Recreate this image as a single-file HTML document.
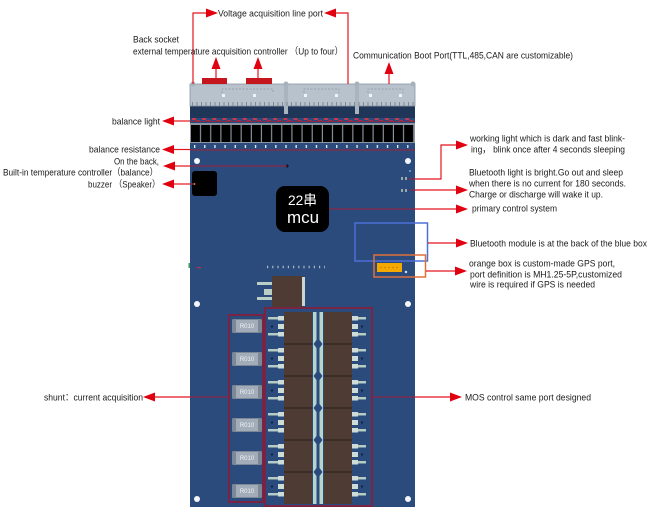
<!DOCTYPE html>
<html><head><meta charset="utf-8"><style>html,body{margin:0;padding:0;background:#fff}svg{display:block}</style></head><body>
<svg width="650" height="524" viewBox="0 0 650 524" xmlns="http://www.w3.org/2000/svg" font-family="'Liberation Sans', 'Noto Sans CJK SC', sans-serif" font-size="9.5" fill="#1a1a1a">
<defs>
  <pattern id="sq" x="191" y="125" width="10.15" height="17" patternUnits="userSpaceOnUse"><rect width="9" height="17" fill="#000"/></pattern>
  <pattern id="led" x="191" y="117" width="10.15" height="6" patternUnits="userSpaceOnUse"><rect x="1" y="1" width="4" height="2" fill="#c8384f"/><rect x="5" y="3" width="4" height="1.5" fill="#b02a45"/></pattern>
  <pattern id="tk" x="194" y="145" width="10.15" height="4" patternUnits="userSpaceOnUse"><rect width="1.3" height="3" fill="#e8eef4"/></pattern>
  <pattern id="pin" x="192" y="102" width="4.5" height="5" patternUnits="userSpaceOnUse"><rect width="1" height="4" fill="#7f8a96"/></pattern>
  <g id="mrow">
    <rect x="268" y="5" width="10" height="2.5" fill="#b6cbc4"/><rect x="278" y="4" width="6" height="4.5" fill="#cddcd6"/>
    <rect x="278" y="12" width="6" height="5" fill="#cddcd6"/><circle cx="272" cy="14.5" r="1" fill="#0d1a2a"/>
    <rect x="268" y="21" width="10" height="2.5" fill="#b6cbc4"/><rect x="278" y="20" width="6" height="4.5" fill="#cddcd6"/>
    <rect x="358" y="5" width="8" height="2.5" fill="#b6cbc4"/><rect x="352" y="4" width="6" height="4.5" fill="#cddcd6"/>
    <rect x="352" y="12" width="6" height="5" fill="#cddcd6"/><circle cx="362" cy="14.5" r="1" fill="#0d1a2a"/>
    <rect x="358" y="21" width="8" height="2.5" fill="#b6cbc4"/><rect x="352" y="20" width="6" height="4.5" fill="#cddcd6"/>
  </g>
  <g id="shunt">
    <rect x="232" y="-7" width="30" height="14" rx="1.5" fill="#7d8896"/>
    <rect x="236" y="-6" width="22" height="12" fill="#a3adb9"/>
    <text x="247" y="2.2" font-size="6" text-anchor="middle" fill="#eef2f6">R010</text>
  </g>
</defs>

<!-- board -->
<rect x="190" y="84" width="225" height="423" fill="#2a4b7c"/>
<rect x="190" y="106" width="225" height="12" fill="#1f3659"/>
<!-- connectors -->
<rect x="190" y="84" width="96" height="22" fill="#b8c2cc" stroke="#8c97a3" stroke-width="0.8"/>
<rect x="286" y="84" width="71" height="22" fill="#b8c2cc" stroke="#8c97a3" stroke-width="0.8"/>
<rect x="357" y="84" width="58" height="22" fill="#b8c2cc" stroke="#8c97a3" stroke-width="0.8"/>
<rect x="284" y="84" width="4" height="30" fill="#aab4be"/>
<rect x="355" y="84" width="4" height="30" fill="#aab4be"/>
<circle cx="193" cy="84" r="2.5" fill="#a7b1bb"/><circle cx="286" cy="84" r="2.5" fill="#a7b1bb"/>
<circle cx="357" cy="84" r="2.5" fill="#a7b1bb"/><circle cx="413" cy="84" r="2.5" fill="#a7b1bb"/>
<rect x="192" y="102" width="222" height="4" fill="url(#pin)"/>
<g fill="none" stroke="#8e99a5" stroke-width="0.8" stroke-dasharray="2 1.5">
  <path d="M222 93 V89 H273 V93"/><path d="M304 93 V89 H339 V93"/><path d="M368 93 V89 H403 V93"/>
</g>
<g fill="#eef3f7"><rect x="222" y="94" width="3" height="3"/><rect x="253" y="94" width="3" height="3"/><rect x="304" y="94" width="3" height="3"/><rect x="335" y="94" width="3" height="3"/><rect x="369" y="94" width="3" height="3"/><rect x="399" y="94" width="3" height="3"/></g>
<!-- LED row -->
<rect x="190" y="117" width="225" height="6" fill="url(#led)"/>
<line x1="190" y1="121.5" x2="415" y2="121.5" stroke="#8a2846" stroke-width="1"/>
<!-- balance resistor row -->
<rect x="190" y="123" width="225" height="20" fill="#8d96a0"/>
<rect x="191" y="125" width="223" height="17" fill="url(#sq)"/>
<rect x="190" y="145" width="225" height="4" fill="url(#tk)"/>
<line x1="190" y1="150" x2="415" y2="150" stroke="#8a2846" stroke-width="1.2"/>

<!-- holes -->
<g fill="#f4f6f8"><circle cx="197" cy="161" r="3"/><circle cx="408" cy="161" r="3"/><circle cx="197" cy="304" r="3"/><circle cx="408" cy="304" r="3"/><circle cx="197" cy="499" r="3"/><circle cx="408" cy="499" r="3"/></g>

<!-- buzzer -->
<rect x="192" y="171" width="25" height="25" rx="3" fill="#000"/>
<circle cx="194.5" cy="184" r="1" fill="#d08030"/>
<circle cx="287" cy="166" r="1.5" fill="#111"/>
<!-- small leds right -->
<circle cx="410" cy="171" r="1" fill="#6fa0e8"/>
<rect x="401" y="177" width="2" height="3" fill="#9aa"/><rect x="405" y="177" width="2" height="3" fill="#9aa"/>
<rect x="401" y="189" width="2" height="3" fill="#9aa"/><rect x="405" y="189" width="2" height="3" fill="#9aa"/>

<!-- mcu -->
<rect x="276" y="186" width="53" height="46" rx="9" fill="#000"/>
<text x="302.5" y="205" font-size="14" fill="#fff" text-anchor="middle" textLength="29" lengthAdjust="spacingAndGlyphs">22串</text>
<text x="303" y="223" font-size="17" fill="#fff" text-anchor="middle" textLength="32" lengthAdjust="spacingAndGlyphs">mcu</text>

<!-- blue / orange boxes -->
<rect x="355" y="223" width="72.5" height="38" fill="none" stroke="#4d70d6" stroke-width="1.5"/>
<rect x="374" y="255" width="51.5" height="22" fill="none" stroke="#e0703a" stroke-width="1.5"/>
<rect x="377" y="263" width="25" height="9" fill="#f5a800"/>
<g fill="#c77a00"><circle cx="381" cy="267.5" r="0.8"/><circle cx="385" cy="267.5" r="0.8"/><circle cx="389" cy="267.5" r="0.8"/><circle cx="393" cy="267.5" r="0.8"/><circle cx="397" cy="267.5" r="0.8"/></g>
<circle cx="406" cy="272" r="1.2" fill="#d8e6f4"/>

<!-- connector row dots -->
<line x1="267" y1="267" x2="325" y2="267" stroke="#a9b8c6" stroke-width="2.5" stroke-dasharray="1.2 4"/>
<rect x="188.5" y="263" width="1.5" height="5" fill="#3aa050"/>
<rect x="197" y="267" width="4" height="1.2" fill="#c03040"/>

<!-- regulator -->
<rect x="257" y="282" width="15" height="3" fill="#b9cfc6"/>
<rect x="264" y="289" width="8" height="6" fill="#b9cfc6"/>
<rect x="257" y="297" width="15" height="3" fill="#b9cfc6"/>
<rect x="272" y="276" width="31" height="31" fill="#4e3b33"/>
<rect x="302" y="277" width="3" height="29" fill="#c8d8d0"/>

<!-- MOS area -->
<rect x="284" y="312" width="28" height="192" fill="#4d3b34"/>
<rect x="324" y="312" width="28" height="192" fill="#4d3b34"/>
<g stroke="#261c18" stroke-width="1"><line x1="284" y1="344" x2="312" y2="344"/><line x1="284" y1="376" x2="312" y2="376"/><line x1="284" y1="408" x2="312" y2="408"/><line x1="284" y1="440" x2="312" y2="440"/><line x1="284" y1="472" x2="312" y2="472"/><line x1="324" y1="344" x2="352" y2="344"/><line x1="324" y1="376" x2="352" y2="376"/><line x1="324" y1="408" x2="352" y2="408"/><line x1="324" y1="440" x2="352" y2="440"/><line x1="324" y1="472" x2="352" y2="472"/></g>
<rect x="313" y="312" width="3.5" height="192" fill="#b8d4cb"/>
<rect x="319.5" y="312" width="3.5" height="192" fill="#b8d4cb"/>
<g fill="#2a4b7c"><polygon points="318,338 322.5,344 318,350 313.5,344"/><polygon points="318,370 322.5,376 318,382 313.5,376"/><polygon points="318,402 322.5,408 318,414 313.5,408"/><polygon points="318,434 322.5,440 318,446 313.5,440"/><polygon points="318,466 322.5,472 318,478 313.5,472"/></g>
<use href="#mrow" transform="translate(0,312)"/><use href="#mrow" transform="translate(0,344)"/><use href="#mrow" transform="translate(0,376)"/><use href="#mrow" transform="translate(0,408)"/><use href="#mrow" transform="translate(0,440)"/><use href="#mrow" transform="translate(0,472)"/>
<use href="#shunt" transform="translate(0,326)"/><use href="#shunt" transform="translate(0,359)"/><use href="#shunt" transform="translate(0,392)"/><use href="#shunt" transform="translate(0,425)"/><use href="#shunt" transform="translate(0,458)"/><use href="#shunt" transform="translate(0,491)"/>
<rect x="265" y="308" width="107" height="198" fill="none" stroke="#7a2445" stroke-width="2"/>
<rect x="229" y="315" width="34" height="187" fill="none" stroke="#7a2445" stroke-width="2"/>

<!-- red tabs on top -->
<rect x="202" y="78" width="25" height="6" fill="#c4161c"/>
<rect x="246" y="78" width="26" height="6" fill="#c4161c"/>

<!-- connector lines (outside board: red; inside: maroon) -->
<g fill="none" stroke="#e3141e" stroke-width="1.2">
  <polyline points="193,84 193,13 206,13"/>
  <polyline points="348,84 348,13 336,13"/>
  <line x1="216" y1="78" x2="216" y2="68"/>
  <line x1="258" y1="78" x2="258" y2="68"/>
  <line x1="389" y1="84" x2="389" y2="73"/>
  <line x1="174" y1="121" x2="190" y2="121"/>
  <line x1="174" y1="149.5" x2="190" y2="149.5"/>
  <line x1="174" y1="166" x2="190" y2="166"/>
  <line x1="174" y1="184" x2="190" y2="184"/>
  <polyline points="415,179 441,179 441,145 457,145"/>
  <line x1="415" y1="190" x2="457" y2="190"/>
  <line x1="415" y1="209" x2="457" y2="209"/>
  <line x1="428" y1="243" x2="457" y2="243"/>
  <line x1="426" y1="271" x2="455" y2="271"/>
  <line x1="154" y1="397" x2="190" y2="397"/>
  <line x1="415" y1="397" x2="451" y2="397"/>
</g>
<g fill="none" stroke="#8c2648" stroke-width="1.2">
  <line x1="190" y1="166" x2="287" y2="166"/>
  <line x1="190" y1="184" x2="194" y2="184"/>
  <line x1="408" y1="179" x2="415" y2="179"/>
  <line x1="410" y1="190" x2="415" y2="190"/>
  <line x1="329" y1="209" x2="415" y2="209"/>
  <line x1="190" y1="397" x2="229" y2="397"/>
  <line x1="372" y1="397" x2="415" y2="397"/>
</g>
<!-- arrowheads -->
<g fill="#e00010">
  <polygon points="218,13 206,8.5 206,17.5"/>
  <polygon points="324,13 336,8.5 336,17.5"/>
  <polygon points="216,57 211.5,69 220.5,69"/>
  <polygon points="258,57 253.5,69 262.5,69"/>
  <polygon points="389,62 384.5,74 393.5,74"/>
  <polygon points="162,121 174,116.5 174,125.5"/>
  <polygon points="162,149.5 174,145 174,154"/>
  <polygon points="163,166 175,161.5 175,170.5"/>
  <polygon points="162,184 174,179.5 174,188.5"/>
  <polygon points="468,145 456,140.5 456,149.5"/>
  <polygon points="468,190 456,185.5 456,194.5"/>
  <polygon points="468,209 456,204.5 456,213.5"/>
  <polygon points="468,243 456,238.5 456,247.5"/>
  <polygon points="467,271 455,266.5 455,275.5"/>
  <polygon points="143,397 155,392.5 155,401.5"/>
  <polygon points="462,397 450,392.5 450,401.5"/>
</g>

<!-- labels -->
<g>
<text x="218" y="16.5" textLength="105" lengthAdjust="spacingAndGlyphs">Voltage acquisition line port</text>
<text x="133" y="42.5" textLength="46" lengthAdjust="spacingAndGlyphs">Back socket</text>
<text x="133" y="54.5" textLength="210" lengthAdjust="spacingAndGlyphs">external temperature acquisition controller （Up to four）</text>
<text x="353" y="58.5" textLength="220" lengthAdjust="spacingAndGlyphs">Communication Boot Port(TTL,485,CAN are customizable)</text>
<text x="112" y="124.5" textLength="48" lengthAdjust="spacingAndGlyphs">balance light</text>
<text x="89" y="152.5" textLength="71" lengthAdjust="spacingAndGlyphs">balance resistance</text>
<text x="114" y="164.5" textLength="45" lengthAdjust="spacingAndGlyphs">On the back,</text>
<text x="3" y="175.5" textLength="155" lengthAdjust="spacingAndGlyphs">Built-in temperature controller（balance）</text>
<text x="88" y="187.5" textLength="72" lengthAdjust="spacingAndGlyphs">buzzer （Speaker）</text>
<text x="470" y="141.5" textLength="155" lengthAdjust="spacingAndGlyphs">working light which is dark and fast blink-</text>
<text x="471" y="152.5" textLength="154" lengthAdjust="spacingAndGlyphs">ing， blink once after 4 seconds sleeping</text>
<text x="469" y="175.5" textLength="154" lengthAdjust="spacingAndGlyphs">Bluetooth light is bright.Go out and sleep</text>
<text x="469" y="186.5" textLength="157" lengthAdjust="spacingAndGlyphs">when there is no current for 180 seconds.</text>
<text x="469" y="197.5" textLength="134" lengthAdjust="spacingAndGlyphs">Charge or discharge will wake it up.</text>
<text x="472" y="211.5" textLength="85" lengthAdjust="spacingAndGlyphs">primary control system</text>
<text x="470" y="246.5" textLength="177" lengthAdjust="spacingAndGlyphs">Bluetooth module is at the back of the blue box</text>
<text x="469" y="266.5" textLength="146" lengthAdjust="spacingAndGlyphs">orange box is custom-made GPS port,</text>
<text x="470" y="277.5" textLength="152" lengthAdjust="spacingAndGlyphs">port definition is MH1.25-5P,customized</text>
<text x="470" y="287.5" textLength="125" lengthAdjust="spacingAndGlyphs">wire is required if GPS is needed</text>
<text x="44" y="400.5" textLength="99" lengthAdjust="spacingAndGlyphs">shunt：current acquisition</text>
<text x="465" y="400.5" textLength="126" lengthAdjust="spacingAndGlyphs">MOS control same port designed</text>
</g>
</svg>
</body></html>
